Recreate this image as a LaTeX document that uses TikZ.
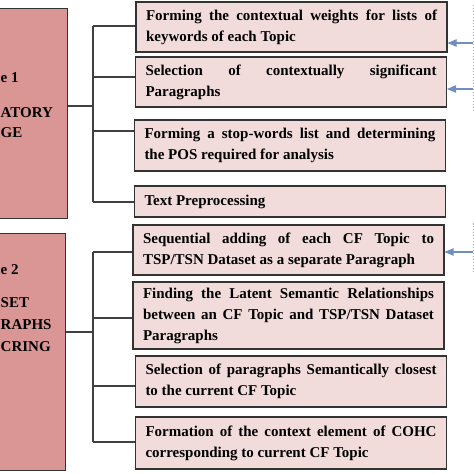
\documentclass[tikz,border=0pt]{standalone}
\usepackage{fontspec}
\setmainfont{Liberation Serif}
\usetikzlibrary{arrows}
\definecolor{taskpink}{HTML}{F2DCDB}
\definecolor{stagepink}{HTML}{D99694}
\definecolor{feedblue}{HTML}{6F8FC0}
\tikzset{task/.style={rectangle,fill=taskpink,draw=black!80,line width=1.1pt,
text width=291pt,inner xsep=10pt,inner ysep=1pt,align=justify,
font=\fontsize{15}{21}\selectfont\bfseries},
stage/.style={rectangle,fill=stagepink,draw=black!80,line width=1.1pt},
stagetext/.style={anchor=west,inner sep=0pt,font=\fontsize{15}{15}\selectfont\bfseries},
ext/.style={rectangle,draw=gray!70,line width=1.5pt,dash pattern=on 1.5pt off 1.5pt},
bus/.style={color=black!75,line width=1.1pt},
feed/.style={->,color=feedblue,line width=1.1pt},
>={triangle 45}}
\newcommand{\taskbox}[5]{
\node (#1) [task,minimum height=#4] at (#2,#3) {#5};
}
\begin{document}
\begin{tikzpicture}[x=1pt,y=-1pt]
  \useasboundingbox (0,0) rectangle (474,474);
  \clip (0,0) rectangle (474,474);

  \node (stage1) [stage,anchor=north east,minimum width=118pt,minimum height=210pt] at (68,8) {};
  \node (stage2) [stage,anchor=north east,minimum width=116pt,minimum height=237pt] at (66,233) {};
  \node (s1a) [stagetext] at (0.5,78) {e 1};
  \node (s1b) [stagetext] at (0.5,113) {ATORY};
  \node (s1c) [stagetext] at (0.5,133) {GE};
  \node (s2a) [stagetext] at (0.5,270) {e 2};
  \node (s2b) [stagetext] at (0.5,303) {SET};
  \node (s2c) [stagetext] at (0.5,325) {RAPHS};
  \node (s2d) [stagetext] at (0.5,347) {CRING};

  \taskbox{A}{291.5}{27}{50pt}{Forming the contextual weights for lists of\linebreak keywords of each Topic}
  \taskbox{B}{291}{82}{50pt}{Selection of contextually significant\linebreak Paragraphs}
  \taskbox{C}{290}{145.5}{51pt}{Forming a stop-words list and determining\linebreak the POS required for analysis}
  \taskbox{D}{290}{201.5}{31pt}{Text Preprocessing}
  \taskbox{E}{288.5}{250}{50pt}{Sequential adding of each CF Topic to\linebreak TSP/TSN Dataset as a separate Paragraph}
  \taskbox{F}{288.5}{315.5}{67pt}{Finding the Latent Semantic Relationships\linebreak between an CF Topic and TSP/TSN Dataset\linebreak Paragraphs}
  \taskbox{G}{291}{381.5}{51pt}{Selection of paragraphs Semantically closest\linebreak to the current CF Topic}
  \taskbox{H}{291}{443}{52pt}{Formation of the context element of COHC\linebreak corresponding to current CF Topic}

  \node (ext1) [ext,anchor=north west,minimum width=60pt,minimum height=107pt] at (473,3) {};
  \node (ext2) [ext,anchor=north west,minimum width=60pt,minimum height=49pt] at (473,223) {};

  \foreach \n/\y in {A/26,B/77,C/131,D/202,E/252,F/318,G/386,H/442}{
    \coordinate (bus\n) at (93,\y);
    \draw [bus] (bus\n) -- (bus\n -| \n.west);
  }
  \draw [bus] (busA) -- (busD);
  \draw [bus] (busE) -- (busH);
  \coordinate (j1) at (93,106);
  \coordinate (j2) at (93,332);
  \draw [bus] (j1 -| stage1.east) -- (j1);
  \draw [bus] (j2 -| stage2.east) -- (j2);

  \coordinate (inA) at (473,43);
  \coordinate (inB) at (473,89);
  \coordinate (inE) at (473,252);
  \draw [feed] (inA) -- (inA -| A.east);
  \draw [feed] (inB) -- (inB -| B.east);
  \draw [feed] (inE) -- (inE -| E.east);
\end{tikzpicture}
\end{document}
